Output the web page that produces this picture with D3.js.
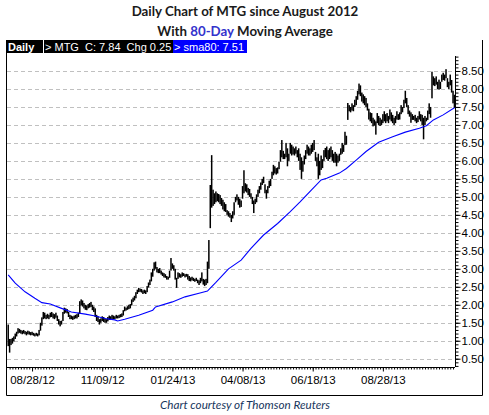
<!DOCTYPE html>
<html>
<head>
<meta charset="utf-8">
<script src="https://cdn.jsdelivr.net/npm/d3@7"></script>
<style>
  body { margin: 0; background: #fff; }
  svg { display: block; }
</style>
</head>
<body>
<div class="container"></div>
<script>
// Daily high / low for MTG, one value per trading day
const highs = [
  1.45,1.05,1.05,1.08,1.12,1.20,1.25,1.35,1.33,1.30,1.28,1.30,1.27,1.25,1.28,1.26,1.24,1.25,1.22,1.20,
  1.22,1.20,1.30,1.50,1.65,1.80,1.78,1.72,1.75,1.72,1.78,1.80,1.76,1.74,1.78,1.70,1.60,1.55,1.56,1.80,
  1.92,1.90,1.88,1.80,1.72,1.70,1.68,1.70,1.72,1.74,1.78,2.10,2.15,2.12,2.05,2.00,1.98,2.02,2.05,2.08,
  2.00,1.95,1.90,1.72,1.68,1.60,1.62,1.68,1.66,1.62,1.60,1.66,1.70,1.68,1.72,1.70,1.68,1.72,1.70,1.72,
  1.74,1.76,1.85,1.95,1.92,1.96,2.00,2.02,2.15,2.20,2.25,2.35,2.42,2.47,2.45,2.44,2.40,2.42,2.40,2.52,
  2.62,2.70,2.90,3.00,3.18,3.20,3.05,3.00,3.02,2.95,2.90,2.88,2.85,2.80,2.78,2.95,3.30,3.15,3.10,3.00,
  2.75,2.90,2.88,2.85,2.90,2.88,2.85,2.86,2.85,2.80,2.76,2.78,2.75,2.72,2.75,2.70,2.68,2.75,2.90,2.72,
  2.70,2.72,3.20,3.80,5.33,6.16,5.20,5.10,5.15,5.10,5.08,5.05,4.97,4.92,4.85,4.80,4.63,4.60,4.55,4.50,
  4.60,4.85,5.00,5.07,5.00,4.95,4.90,5.30,5.74,5.38,5.35,5.25,5.22,5.10,5.00,4.90,4.95,5.07,5.20,5.30,
  5.40,5.50,5.56,5.35,5.20,5.30,5.45,5.50,5.70,5.89,5.85,5.80,5.82,5.98,6.30,6.58,6.28,6.20,6.50,6.35,
  6.20,6.50,6.45,6.40,6.35,6.40,6.30,6.35,6.20,6.10,6.00,6.15,6.30,6.45,6.40,6.35,6.45,6.50,6.58,6.25,
  6.10,6.20,6.00,6.15,6.05,6.30,6.36,6.40,6.30,6.35,6.40,6.30,6.20,6.25,6.20,6.15,6.20,6.35,6.50,6.45,
  6.81,6.70,7.61,7.55,7.50,7.60,7.55,7.70,7.80,7.95,8.15,8.10,7.90,7.85,7.80,7.75,7.60,7.45,7.35,7.33,
  7.20,7.15,7.10,7.33,7.25,7.20,7.15,7.30,7.38,7.30,7.33,7.25,7.43,7.35,7.28,7.20,7.25,7.38,7.30,7.35,
  7.55,7.50,7.70,7.95,7.75,7.55,7.40,7.35,7.30,7.25,7.28,7.20,7.25,7.38,7.30,7.28,7.20,7.25,7.20,7.40,
  7.60,7.50,8.48,8.35,8.30,8.35,8.20,8.26,8.20,8.40,8.45,8.40,8.55,8.30,8.20,8.40,8.25,7.95,7.84
];
const lows = [
  0.85,0.67,0.88,0.92,0.98,1.05,1.12,1.20,1.22,1.20,1.18,1.20,1.18,1.15,1.18,1.17,1.15,1.16,1.14,1.12,
  1.14,1.12,1.15,1.28,1.42,1.60,1.62,1.60,1.62,1.60,1.65,1.66,1.62,1.60,1.64,1.55,1.45,1.40,1.45,1.55,
  1.75,1.78,1.76,1.66,1.60,1.60,1.58,1.60,1.62,1.62,1.66,1.75,1.98,1.95,1.90,1.86,1.85,1.90,1.92,1.94,
  1.85,1.80,1.66,1.55,1.52,1.45,1.50,1.55,1.52,1.50,1.50,1.54,1.58,1.58,1.60,1.60,1.60,1.62,1.62,1.63,
  1.65,1.66,1.70,1.82,1.84,1.86,1.88,1.90,1.98,2.08,2.12,2.18,2.30,2.35,2.36,2.34,2.30,2.32,2.30,2.35,
  2.48,2.55,2.65,2.78,2.95,3.00,2.90,2.88,2.88,2.84,2.80,2.76,2.75,2.70,2.70,2.75,2.95,3.00,2.95,2.70,
  2.47,2.72,2.76,2.75,2.78,2.80,2.76,2.78,2.70,2.66,2.65,2.68,2.66,2.64,2.66,2.60,2.55,2.60,2.65,2.56,
  2.52,2.55,2.60,3.00,4.13,4.70,4.75,4.80,4.85,4.88,4.85,4.80,4.75,4.65,4.60,4.58,4.50,4.45,4.42,4.30,
  4.40,4.50,4.85,4.90,4.78,4.70,4.72,4.95,5.10,5.15,5.12,5.05,5.00,4.95,4.80,4.55,4.80,4.85,5.00,5.10,
  5.20,5.33,5.38,5.10,4.95,5.10,5.25,5.30,5.50,5.60,5.65,5.62,5.65,5.77,5.98,6.10,6.05,6.05,6.10,5.85,
  6.00,6.20,6.15,6.18,6.15,6.20,6.10,6.00,5.75,5.50,5.70,5.90,6.05,6.20,6.15,6.15,6.20,6.25,6.30,6.00,
  5.85,5.50,5.60,5.75,5.80,6.00,6.10,6.05,6.00,6.05,6.10,6.00,5.95,5.95,5.85,5.95,6.00,6.17,6.20,6.25,
  6.44,6.45,7.14,7.38,7.35,7.40,7.38,7.50,7.55,7.70,7.85,7.80,7.65,7.60,7.55,7.50,7.40,7.15,7.10,7.05,
  6.96,6.98,6.73,7.05,7.00,6.97,7.00,7.05,7.10,7.05,7.10,7.05,7.15,7.10,7.05,7.00,7.05,7.15,7.14,7.15,
  7.30,7.35,7.47,7.60,7.50,7.30,7.23,7.06,7.14,7.14,7.10,7.05,7.08,7.15,7.10,7.00,6.60,7.00,7.10,7.14,
  7.30,7.20,7.74,8.10,8.08,8.12,8.00,7.98,8.00,8.20,8.25,8.23,8.30,8.05,8.00,8.10,7.90,7.60,7.47
];

// 80-day simple moving average, sampled at trading-day positions
const smaDays   = [0, 5, 12, 19, 24, 30, 38, 45, 55, 62, 69, 76, 78, 83, 93, 103, 105, 117, 126, 136, 142,
                   144, 148, 157, 166, 173, 182, 192, 201, 208, 216, 223, 227, 236, 241, 248, 255, 264,
                   274, 283, 293, 298, 303, 310, 318];
const smaValues = [2.83, 2.60, 2.36, 2.18, 2.06, 2.02, 1.90, 1.80, 1.74, 1.69, 1.62, 1.58, 1.55, 1.60, 1.71,
                   1.85, 1.94, 2.08, 2.22, 2.32, 2.38, 2.46, 2.62, 3.00, 3.24, 3.57, 3.94, 4.26, 4.59,
                   4.86, 5.19, 5.47, 5.52, 5.66, 5.79, 6.02, 6.26, 6.52, 6.67, 6.80, 6.91, 6.98, 7.14,
                   7.28, 7.48];

// axis labels
const xTickLabels = ["08/28/12", "11/09/12", "01/24/13", "04/08/13", "06/18/13", "08/28/13"];
const xTickDays = [17, 67, 117, 167, 217, 267];
const yTicks = [0.5, 1, 1.5, 2, 2.5, 3, 3.5, 4, 4.5, 5, 5.5, 6, 6.5, 7, 7.5, 8, 8.5];

const width = 489;
const height = 415;

const svg = d3.select(".container")
              .append("svg")
              .attr("width", width)
              .attr("height", height);

// plot area
const plotLeft = 7, plotRight = 455, plotTop = 53, plotBottom = 367;

const x = d3.scaleLinear().domain([-0.86, 318.4]).range([plotLeft, plotRight]);
const y = d3.scaleLinear().domain([0.27, 9.0]).range([plotBottom, plotTop]);

// titles
const title = svg.append("g")
   .attr("font-family", "Lato, 'Open Sans', sans-serif")
   .attr("font-weight", "bold")
   .attr("font-size", "13.3px")
   .attr("fill", "#1a1a1a")
   .attr("text-anchor", "middle");

title.append("text")
   .attr("x", 245)
   .attr("y", 16)
   .text("Daily Chart of MTG since August 2012");

const t2 = title.append("text")
   .attr("x", 245)
   .attr("y", 36);
t2.append("tspan").text("With ");
t2.append("tspan").attr("fill", "#3333cc").text("80-Day");
t2.append("tspan").text(" Moving Average");

// outer frame
svg.append("path")
   .attr("d", "M6.5,40 V395.5 H482.5 V40")
   .attr("fill", "none")
   .attr("stroke", "#000")
   .attr("stroke-width", 1);

// header strip
const header = svg.append("g")
   .attr("font-family", "'Liberation Sans', Arial, sans-serif")
   .attr("font-size", "11px")
   .attr("fill", "#fff");

header.append("rect").attr("x", 6).attr("y", 40).attr("width", 37).attr("height", 13).attr("fill", "#000");
header.append("rect").attr("x", 44).attr("y", 40).attr("width", 129).attr("height", 13).attr("fill", "#000");
header.append("rect").attr("x", 173).attr("y", 40).attr("width", 74).attr("height", 13).attr("fill", "#0000ff");

header.append("text").attr("x", 8).attr("y", 51).attr("font-weight", "bold").text("Daily");
header.append("text").attr("x", 45).attr("y", 51).style("white-space", "pre")
   .text("> MTG  C: 7.84  Chg 0.25");
header.append("text").attr("x", 174).attr("y", 51).text("> sma80: 7.51");

// dashed grid
svg.append("g")
   .selectAll("line")
   .data(yTicks)
   .enter()
   .append("line")
   .attr("x1", plotLeft)
   .attr("x2", plotRight)
   .attr("y1", d => Math.round(y(d)) + 0.5)
   .attr("y2", d => Math.round(y(d)) + 0.5)
   .attr("stroke", "#c0c0c0")
   .attr("stroke-dasharray", "4,3");

// price bars
svg.append("g")
   .selectAll("rect")
   .data(highs)
   .enter()
   .append("rect")
   .attr("x", (d, i) => x(i) - 0.75)
   .attr("width", 1.5)
   .attr("y", d => y(d))
   .attr("height", (d, i) => Math.max(1.6, y(lows[i]) - y(d)))
   .attr("fill", "#000");

// moving average
const smaLine = d3.line()
   .x((d, i) => x(smaDays[i]))
   .y(d => y(d));

svg.append("path")
   .datum(smaValues)
   .attr("d", smaLine)
   .attr("fill", "none")
   .attr("stroke", "#0000ff")
   .attr("stroke-width", 1.1);

// right axis - minor then major ticks
const minorY = d3.range(3, 90).map(v => v / 10);
svg.append("g")
   .attr("transform", `translate(${plotRight + 0.5},0)`)
   .call(d3.axisRight(y).tickValues(minorY).tickSize(3).tickFormat("").tickSizeOuter(0))
   .call(g => g.select(".domain").attr("d", `M0,${plotTop + 3}V${plotBottom}`));

svg.append("g")
   .attr("transform", `translate(${plotRight + 0.5},0)`)
   .call(d3.axisRight(y).tickValues(yTicks).tickSize(5).tickPadding(1)
           .tickFormat(d3.format(".2f")).tickSizeOuter(0))
   .call(g => g.select(".domain").remove())
   .call(g => g.selectAll("text")
               .attr("font-family", "'Liberation Sans', Arial, sans-serif")
               .attr("font-size", "11.5px")
               .attr("fill", "#000"));

// bottom axis
const minorX = d3.range(1, 319, 2);
svg.append("g")
   .attr("transform", `translate(0,${plotBottom + 0.5})`)
   .call(d3.axisBottom(x).tickValues(minorX).tickSize(2).tickFormat("").tickSizeOuter(0))
   .call(g => g.select(".domain").attr("d", `M${plotLeft},0H${plotRight}`));

svg.append("g")
   .attr("transform", `translate(0,${plotBottom + 0.5})`)
   .call(d3.axisBottom(x).tickValues(xTickDays).tickSize(4).tickPadding(4)
           .tickFormat((d, i) => xTickLabels[i]).tickSizeOuter(0))
   .call(g => g.select(".domain").remove())
   .call(g => g.selectAll("text")
               .attr("font-family", "'Liberation Sans', Arial, sans-serif")
               .attr("font-size", "11.5px")
               .attr("fill", "#000"));

// footer
svg.append("text")
   .attr("x", 245)
   .attr("y", 409)
   .attr("text-anchor", "middle")
   .attr("font-family", "Lato, 'Open Sans', sans-serif")
   .attr("font-style", "italic")
   .attr("font-size", "11.7px")
   .attr("fill", "#17365d")
   .text("Chart courtesy of Thomson Reuters");
</script>
</body>
</html>
